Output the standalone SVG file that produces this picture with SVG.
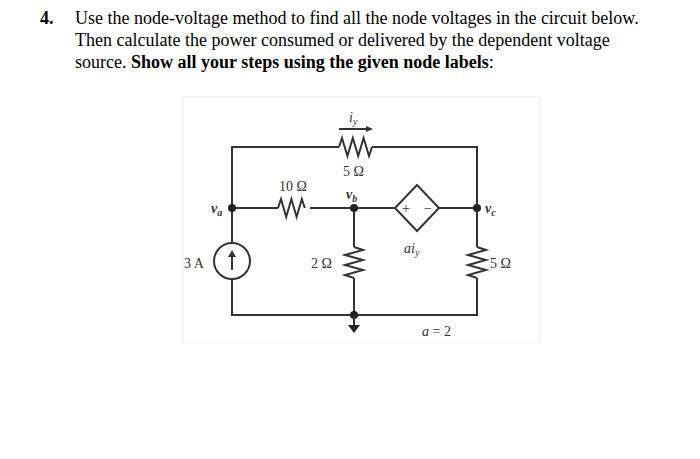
<svg xmlns="http://www.w3.org/2000/svg" width="700" height="459" viewBox="0 0 700 459">
<style>
.t{font-family:"Liberation Serif",serif;font-size:18px;fill:#000}
.l{font-family:"Liberation Serif",serif;font-size:14px;fill:#333}
.i{font-style:italic}
.w{fill:none;stroke:#333;stroke-width:2}
.d{fill:#222}
</style>
<rect width="700" height="459" fill="#fff"/>
<text class="t" x="40" y="24"><tspan font-weight="bold">4.</tspan><tspan x="75">Use the node-voltage method to find all the node voltages in the circuit below.</tspan></text>
<text class="t" x="75" y="46">Then calculate the power consumed or delivered by the dependent voltage</text>
<text class="t" x="75" y="68">source. <tspan font-weight="bold">Show all your steps using the given node labels</tspan>:</text>
<rect x="183" y="97" width="357" height="246" fill="none" stroke="#eee"/>
<g id="connectors">
<path class="w" d="M232 208V147H339M372 147H477V208M232 208H278M310 208H354H395M439 208H477V247M477 278V315H232V279M232 243V208M354 208V247M354 278V315"/>
</g>
<g id="R5top"><path class="w" d="M339 147l3 -9 5.4 18 5.4 -18 5.4 18 5.4 -18 5.4 18 3 -9"/><text class="l" x="343" y="176">5 Ω</text></g>
<g id="iy"><path class="w" stroke-width="1.2" d="M339 129H370"/><path d="M373 129l-7 -3v6z" fill="#333"/><text class="l i" x="349" y="122">i<tspan font-size="10" dy="3">y</tspan></text></g>
<g id="R10"><path class="w" d="M278 208l3 -9 5.2 18 5.2 -18 5.2 18 5.2 -18 3 9"/><text class="l" x="279" y="191">10 Ω</text></g>
<g id="R2"><path class="w" d="M354 247l9 3 -18 5 18 5 -18 5 18 5 -18 5 9 3"/><text class="l" x="311" y="268">2 Ω</text></g>
<g id="R5right"><path class="w" d="M477 247l9 3 -18 5 18 5 -18 5 18 5 -18 5 9 3"/><text class="l" x="490" y="268">5 Ω</text></g>
<g id="src"><circle class="w" cx="232" cy="261" r="18"/><path class="w" stroke-width="1.5" d="M232 270V254"/><path d="M232 250l-4 7h8z" fill="#333"/><text class="l" x="184" y="268">3 A</text></g>
<g id="dep"><path class="w" d="M417 185l22 23 -22 23 -22 -23z"/><text class="l" x="402" y="213" font-size="13">+</text><text class="l" x="424" y="213" font-size="13">−</text><text class="l i" x="404" y="253">ai<tspan font-size="10" dy="3">y</tspan></text></g>
<g id="va"><circle class="d" cx="232" cy="208" r="4"/><text class="l i" x="211" y="213" font-weight="bold">v<tspan font-size="10" dy="3">a</tspan></text></g>
<g id="vb"><circle class="d" cx="354" cy="208" r="4"/><text class="l i" x="346" y="199" font-weight="bold">v<tspan font-size="10" dy="3">b</tspan></text></g>
<g id="vc"><circle class="d" cx="477" cy="208" r="4"/><text class="l i" x="485" y="213" font-weight="bold">v<tspan font-size="10" dy="3">c</tspan></text></g>
<g id="gnd"><circle class="d" cx="354" cy="315" r="4"/><path class="w" d="M354 315V326"/><path d="M348 325h12l-6 8z" fill="#222"/></g>
<text class="l i" x="422" y="336">a <tspan font-style="normal">= 2</tspan></text>
</svg>
